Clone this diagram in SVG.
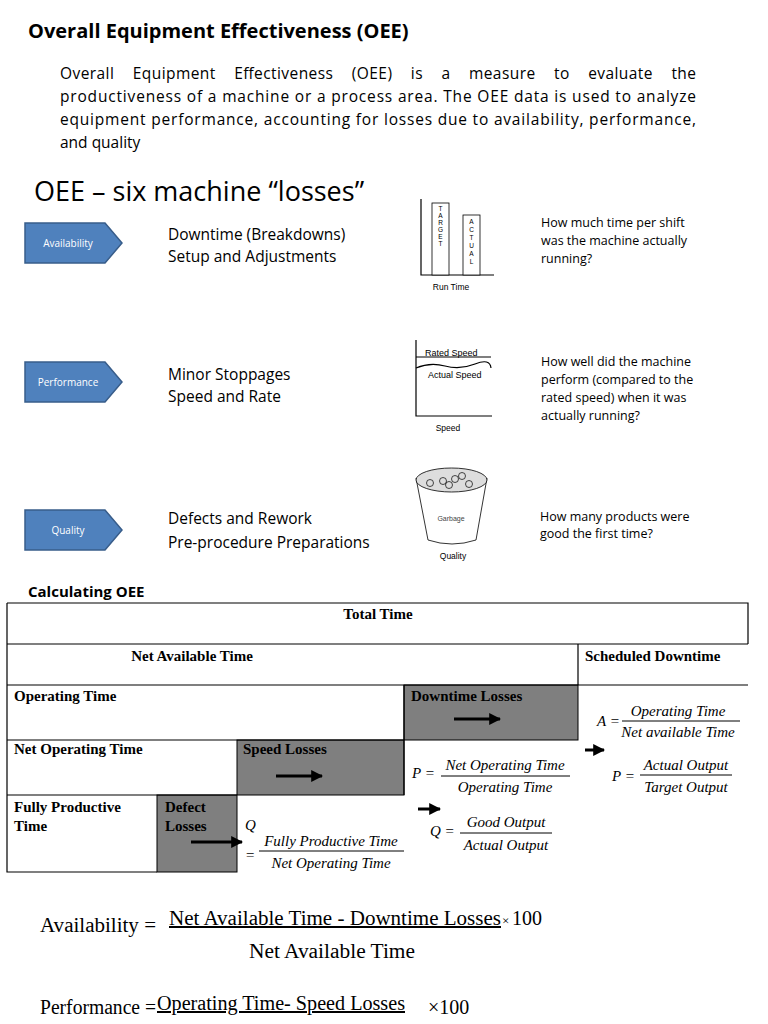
<svg xmlns="http://www.w3.org/2000/svg" width="768" height="1024" viewBox="0 0 768 1024">
<style>
.s{font-family:"Liberation Sans",Arial,sans-serif}
.c{font-family:"Open Sans","Liberation Sans",sans-serif}
.t{font-family:"Liberation Serif","Times New Roman",serif}
.tb{font-family:"Liberation Serif",serif;font-weight:bold;font-size:15px}
.ti{font-family:"Liberation Serif",serif;font-style:italic;font-size:15px}
.ln{stroke:#000;stroke-width:1.2;fill:none}
.g{fill:#7f7f7f;stroke:#000;stroke-width:1}
.chev{fill:#4f81bd;stroke:#385d8a;stroke-width:1.5}
.q{font-family:"Open Sans","Liberation Sans",sans-serif;font-size:12.5px}
</style>
<defs><marker id="ah" viewBox="0 0 10 10" refX="9" refY="5" markerWidth="4" markerHeight="4" orient="auto"><path d="M0,0L10,5L0,10z"/></marker></defs>
<rect width="768" height="1024" fill="#fff"/>
<text x="28" y="38" class="c" font-size="20" font-weight="bold">Overall Equipment Effectiveness (OEE)</text>
<g class="c" font-size="15.5">
<text x="60" y="79" textLength="636" lengthAdjust="spacing" word-spacing="14">Overall Equipment Effectiveness (OEE) is a measure to evaluate the</text>
<text x="60" y="102" textLength="636" lengthAdjust="spacing">productiveness of a machine or a process area.  The OEE data is used to analyze</text>
<text x="60" y="125" textLength="636" lengthAdjust="spacing">equipment performance, accounting for losses due to availability, performance,</text>
<text x="60" y="148">and quality</text>
</g>
<text x="34" y="201" class="c" font-size="27">OEE – six machine “losses”</text>

<g id="availability"><path class="chev" d="M25,223H105L122,243L105,263H25z"/><text x="68" y="247" class="c" font-size="10" fill="#fff" text-anchor="middle">Availability</text></g>
<g id="performance"><path class="chev" d="M25,362H105L122,382L105,402H25z"/><text x="68" y="386" class="c" font-size="10" fill="#fff" text-anchor="middle">Performance</text></g>
<g id="quality"><path class="chev" d="M25,510H105L122,530L105,550H25z"/><text x="68" y="534" class="c" font-size="10" fill="#fff" text-anchor="middle">Quality</text></g>

<g class="c" font-size="15.5">
<text x="168" y="240">Downtime (Breakdowns)</text><text x="168" y="262">Setup and Adjustments</text>
<text x="168" y="380">Minor Stoppages</text><text x="168" y="402">Speed and Rate</text>
<text x="168" y="524">Defects and Rework</text><text x="168" y="548">Pre-procedure Preparations</text>
</g>
<g class="q">
<text x="541" y="227">How much time per shift</text><text x="541" y="245">was the machine actually</text><text x="541" y="263">running?</text>
<text x="541" y="366">How well did the machine</text><text x="541" y="384">perform (compared to the</text><text x="541" y="402">rated speed) when it was</text><text x="541" y="420">actually running?</text>
<text x="540" y="521">How many products were</text><text x="540" y="538">good the first time?</text>
</g>

<g id="runtime" class="s">
<path class="ln" d="M421,199V275H494" stroke-width="0.8"/>
<rect x="432" y="203" width="17" height="72" fill="#fff" stroke="#000" stroke-width="0.8"/>
<rect x="463" y="215" width="17" height="60" fill="#fff" stroke="#000" stroke-width="0.8"/>
<g font-size="6.5" text-anchor="middle"><text x="440.5" y="211">T</text><text x="440.5" y="218">A</text><text x="440.5" y="225">R</text><text x="440.5" y="232">G</text><text x="440.5" y="239">E</text><text x="440.5" y="246">T</text>
<text x="471.5" y="224">A</text><text x="471.5" y="232">C</text><text x="471.5" y="240">T</text><text x="471.5" y="248">U</text><text x="471.5" y="256">A</text><text x="471.5" y="264">L</text></g>
<text x="451" y="290" font-size="8.5" text-anchor="middle">Run Time</text>
</g>
<g id="speed" class="s">
<path class="ln" d="M416,340V416H492" stroke-width="0.8"/>
<path class="ln" d="M416,357H491" stroke-width="0.8"/>
<path class="ln" d="M416,368Q430,362 445,366T475,364T491,368" stroke-width="0.8"/>
<text x="425" y="356" font-size="9">Rated Speed</text>
<text x="428" y="378" font-size="9">Actual Speed</text>
<text x="448" y="431" font-size="8.5" text-anchor="middle">Speed</text>
</g>
<g id="bucket" class="s">
<path d="M416,478L428,540Q452,548 476,540L487,478" fill="#fff" stroke="#000" stroke-width="0.8"/>
<ellipse cx="451.5" cy="480" rx="35.5" ry="12" fill="#ddd" stroke="#000" stroke-width="0.8"/>
<g fill="none" stroke="#000" stroke-width="0.7"><circle cx="430" cy="483" r="3.5"/><circle cx="443" cy="481" r="3.5"/><circle cx="449" cy="485" r="3.5"/><circle cx="455" cy="479" r="3.5"/><circle cx="462" cy="476" r="3.5"/><circle cx="469" cy="484" r="3.5"/></g>
<text x="451" y="521" font-size="7" text-anchor="middle" fill="#444">Garbage</text>
<text x="453" y="559" font-size="8.5" text-anchor="middle">Quality</text>
</g>

<text x="28" y="597" class="c" font-size="15" font-weight="bold">Calculating OEE</text>
<g id="table">
<rect class="g" x="404" y="685" width="174" height="55"/>
<rect class="g" x="237" y="740" width="167" height="55"/>
<rect class="g" x="157" y="795" width="80" height="77"/>
<path class="ln" d="M7,603H748V644M7,603V872H157M7,644H748M7,685H578M578,644V685H748M404,685V740M7,740H404M404,740V795M7,795H237"/>
<g class="tb">
<text x="378" y="619" text-anchor="middle">Total Time</text>
<text x="192" y="661" text-anchor="middle">Net Available Time</text>
<text x="585" y="661">Scheduled Downtime</text>
<text x="14" y="701">Operating Time</text>
<text x="411" y="701">Downtime Losses</text>
<text x="14" y="754">Net Operating Time</text>
<text x="243" y="754">Speed Losses</text>
<text x="14" y="812">Fully Productive</text><text x="14" y="831">Time</text>
<text x="165" y="812">Defect</text><text x="165" y="831">Losses</text>
</g>
</g>
<g id="connectors" stroke="#000" stroke-width="3" marker-end="url(#ah)">
<line x1="454" y1="719" x2="500" y2="719"/>
<line x1="276" y1="776" x2="322" y2="776"/>
<line x1="191" y1="842" x2="242" y2="842"/>
<line x1="585" y1="750" x2="604" y2="750"/>
<line x1="418" y1="809" x2="440" y2="809"/>
</g>
<g class="ti">
<text x="597" y="726">A =</text><text x="678" y="716" text-anchor="middle">Operating Time</text><line x1="622" y1="721" x2="740" y2="721" stroke="#000"/><text x="678" y="737" text-anchor="middle">Net available Time</text>
<text x="412" y="778">P =</text><text x="505" y="770" text-anchor="middle">Net Operating Time</text><line x1="441" y1="776" x2="570" y2="776" stroke="#000"/><text x="505" y="792" text-anchor="middle">Operating Time</text>
<text x="612" y="781">P =</text><text x="686" y="770" text-anchor="middle">Actual Output</text><line x1="640" y1="775" x2="732" y2="775" stroke="#000"/><text x="686" y="792" text-anchor="middle">Target Output</text>
<text x="430" y="836">Q =</text><text x="506" y="827" text-anchor="middle">Good Output</text><line x1="460" y1="833" x2="552" y2="833" stroke="#000"/><text x="506" y="850" text-anchor="middle">Actual Output</text>
<text x="245" y="830">Q</text><text x="245" y="860">=</text><text x="331" y="846" text-anchor="middle">Fully Productive Time</text><line x1="259" y1="851" x2="404" y2="851" stroke="#000"/><text x="331" y="868" text-anchor="middle">Net Operating Time</text>
</g>
<g class="t" font-size="20">
<text x="40" y="932" textLength="116" lengthAdjust="spacingAndGlyphs">Availability =</text>
<text x="169" y="925" text-decoration="underline" textLength="332" lengthAdjust="spacingAndGlyphs">Net Available Time - Downtime Losses</text>
<text x="502" y="925" font-size="13">×</text><text x="512" y="925">100</text>
<text x="249" y="958" textLength="166" lengthAdjust="spacingAndGlyphs">Net Available Time</text>
<text x="40" y="1014" textLength="116" lengthAdjust="spacingAndGlyphs">Performance =</text>
<text x="157" y="1010" text-decoration="underline" textLength="248" lengthAdjust="spacingAndGlyphs">Operating Time- Speed Losses</text>
<text x="428" y="1014">×100</text>
</g>
</svg>
